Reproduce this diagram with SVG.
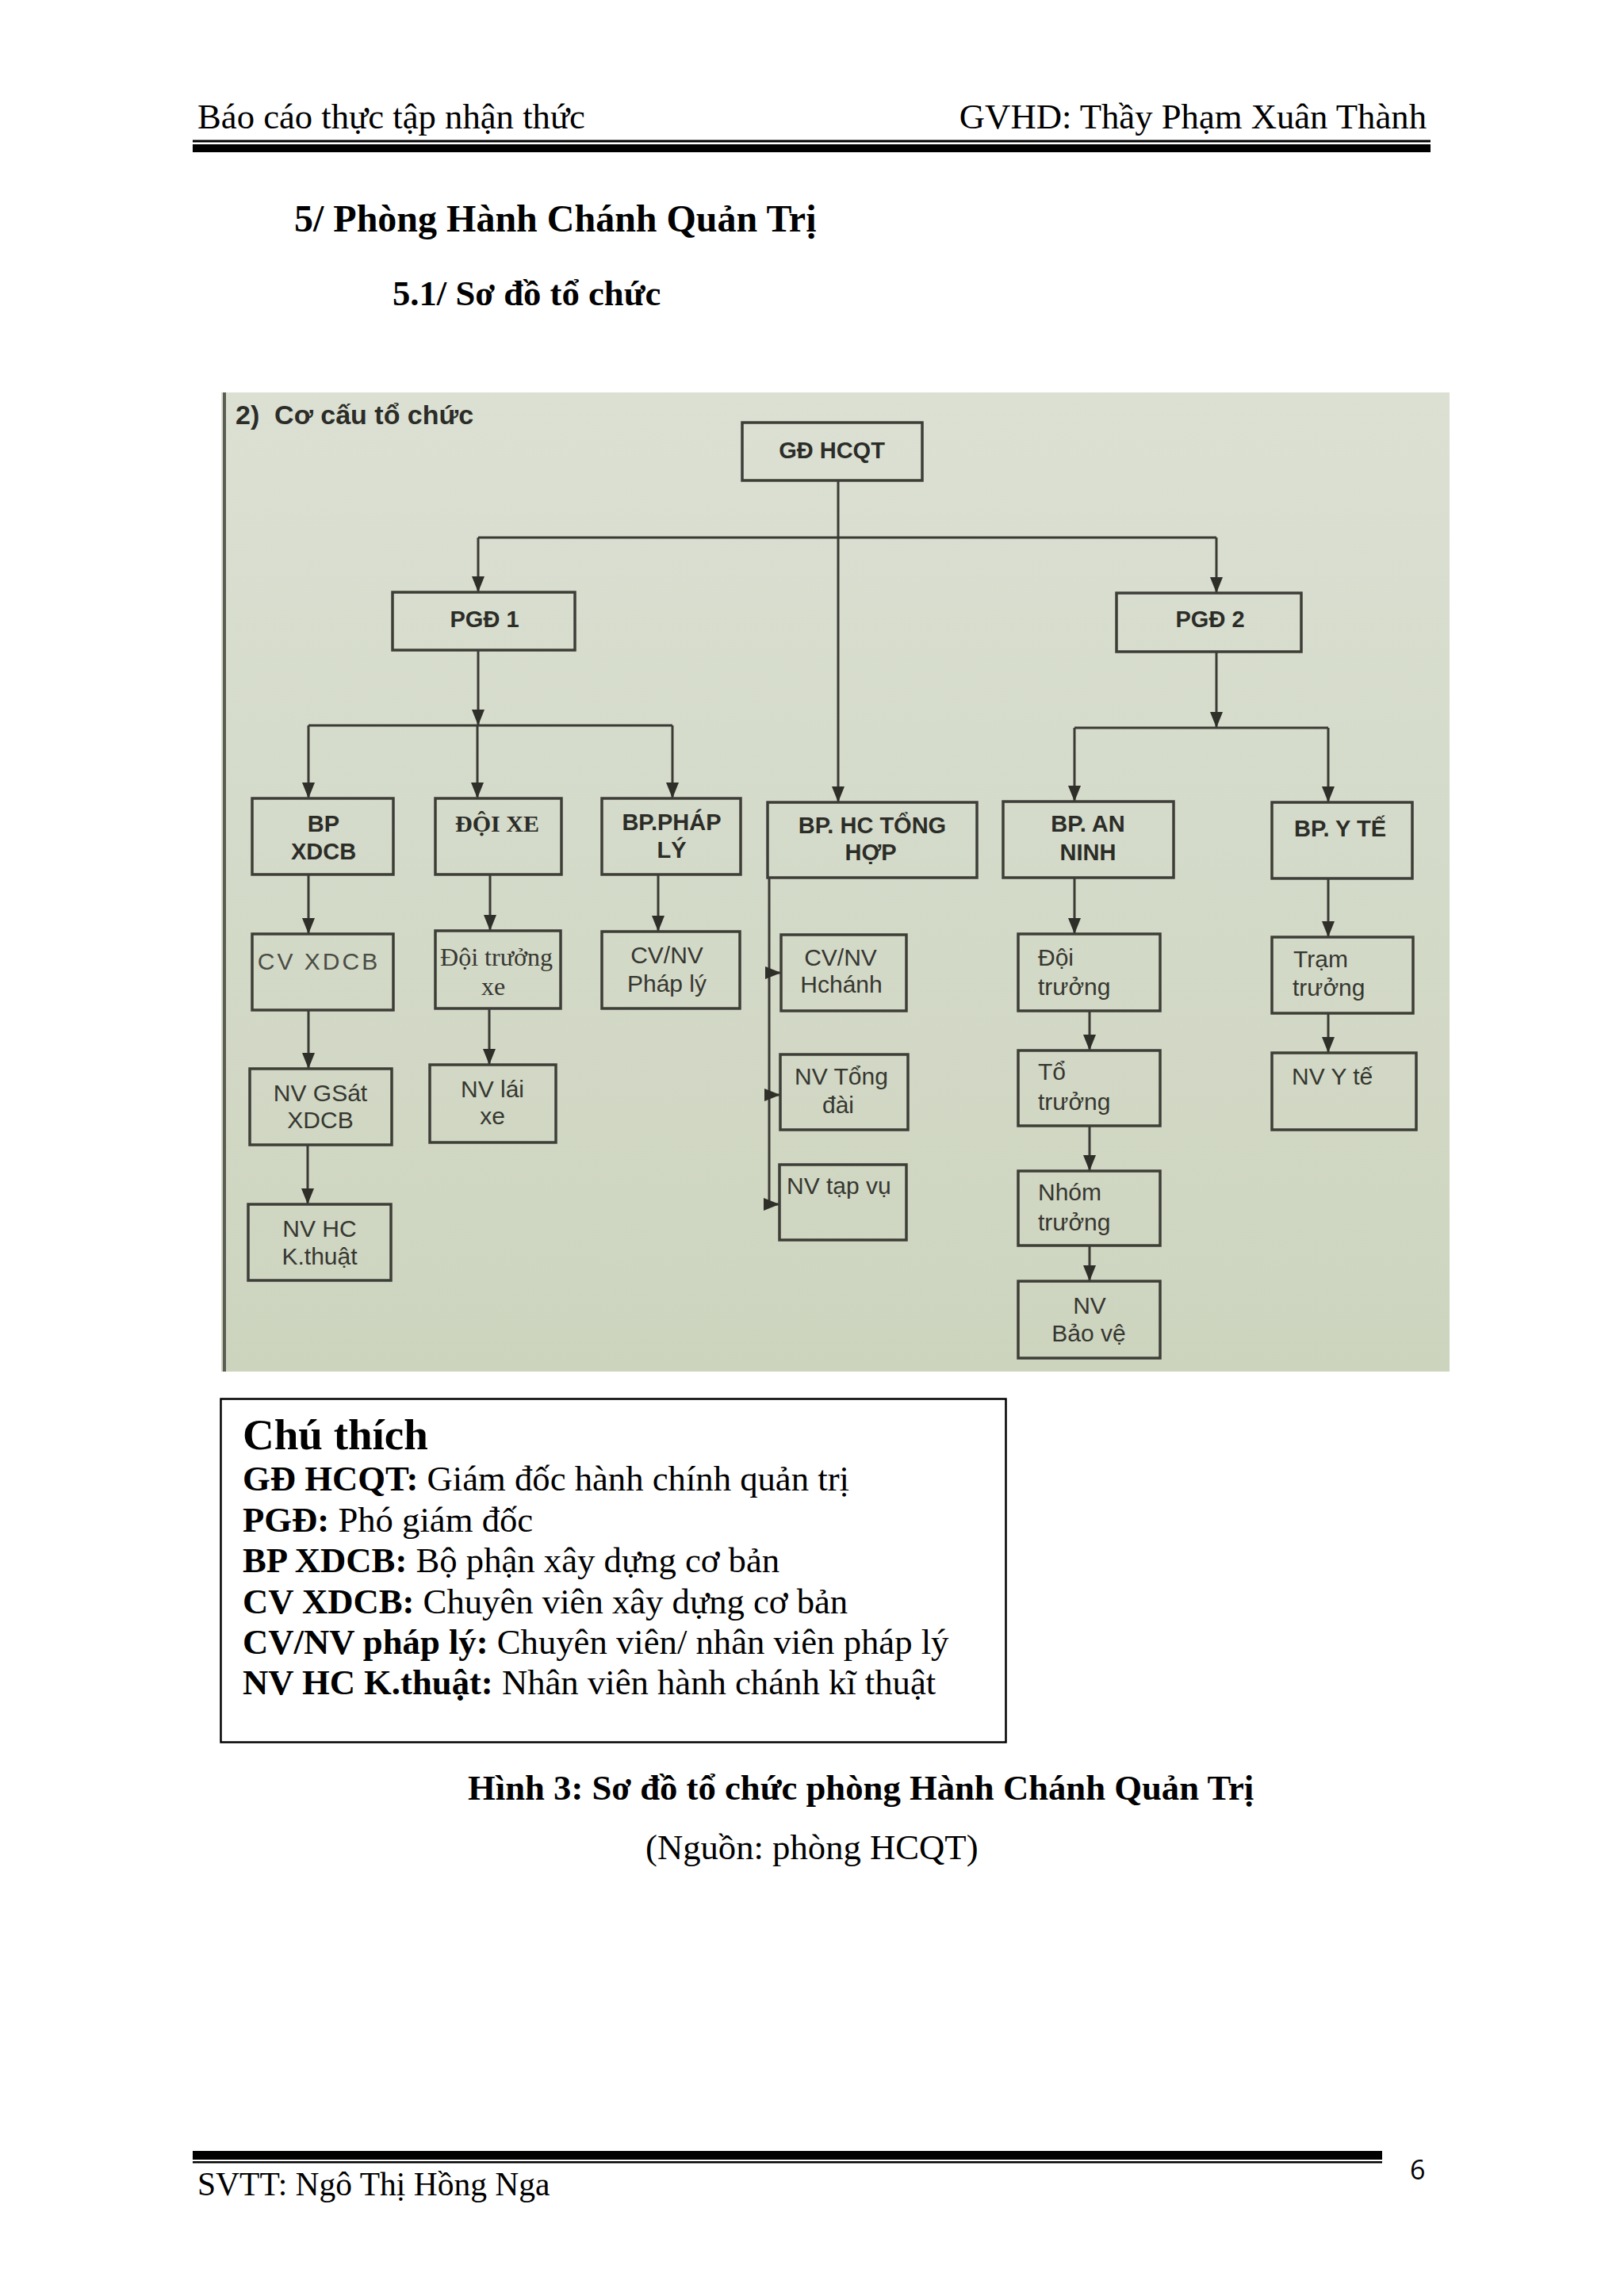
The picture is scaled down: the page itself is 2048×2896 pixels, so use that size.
<svg xmlns="http://www.w3.org/2000/svg" width="2048" height="2896" viewBox="0 0 2048 2896">
<defs>
<style>
.pg{font-family:"Liberation Serif","Times New Roman",serif;font-size:44.7px;fill:#000}
.b{font-weight:bold}
.box{fill:none;stroke:#3d3e37;stroke-width:3.5}
.hb{font-family:"Liberation Sans",Arial,sans-serif;font-weight:bold;font-size:29px;fill:#2c2d28;text-anchor:middle}
.t{font-family:"Liberation Sans",Arial,sans-serif;font-size:30px;fill:#363731;text-anchor:middle}
.tl{font-family:"Liberation Sans",Arial,sans-serif;font-size:30px;fill:#363731}
.sr{font-family:"Liberation Serif","Times New Roman",serif;font-size:32px;fill:#363731;text-anchor:middle}
.ln{fill:none;stroke:#3a3b34;stroke-width:3}
.ar{marker-end:url(#ah)}
</style>
<marker id="ah" markerUnits="userSpaceOnUse" markerWidth="20" markerHeight="16" refX="20" refY="8" orient="auto">
<path d="M0,0 L20,8 L0,16 z" fill="#2e2f29"/>
</marker>
<linearGradient id="bg" x1="0" y1="0" x2="0" y2="1">
<stop offset="0" stop-color="#dbe0d3"/>
<stop offset="1" stop-color="#cdd4be"/>
</linearGradient>
</defs>
<rect width="2048" height="2896" fill="#ffffff"/>

<!-- page header -->
<g id="header">
<text class="pg" x="249" y="162">Báo cáo thực tập nhận thức</text>
<text class="pg" x="1799" y="162" text-anchor="end">GVHD: Thầy Phạm Xuân Thành</text>
<rect x="243" y="176.5" width="1561" height="3" fill="#000"/>
<rect x="243" y="182" width="1561" height="10" fill="#000"/>
</g>
<text class="pg b" x="371" y="292" style="font-size:48px">5/ Phòng Hành Chánh Quản Trị</text>
<text class="pg b" x="495" y="385">5.1/ Sơ đồ tổ chức</text>

<!-- photographed chart -->
<rect x="279" y="495" width="1549" height="1235" fill="url(#bg)"/>
<rect x="281" y="495" width="4" height="1235" fill="#5b5d52"/>
<text x="297" y="535" style="font-family:'Liberation Sans',Arial,sans-serif;font-weight:bold;font-size:34px;fill:#2c2d28" xml:space="preserve">2)  Cơ cấu tổ chức</text>

<g id="connectors">
<path class="ln ar" d="M1057,606 V1012"/>
<path class="ln" d="M603,678 H1534"/>
<path class="ln ar" d="M603,678 V747"/>
<path class="ln ar" d="M1534,678 V748"/>
<path class="ln ar" d="M603,820 V915"/>
<path class="ln" d="M389,915 H848"/>
<path class="ln ar" d="M389,915 V1007"/>
<path class="ln ar" d="M602,915 V1007"/>
<path class="ln ar" d="M848,915 V1007"/>
<path class="ln ar" d="M1534,822 V918"/>
<path class="ln" d="M1355,918 H1675"/>
<path class="ln ar" d="M1355,918 V1011"/>
<path class="ln ar" d="M1675,918 V1012"/>
<path class="ln ar" d="M389,1103 V1178"/>
<path class="ln ar" d="M389,1274 V1348"/>
<path class="ln ar" d="M388,1444 V1519"/>
<path class="ln ar" d="M618,1103 V1174"/>
<path class="ln ar" d="M617,1272 V1343"/>
<path class="ln ar" d="M830,1103 V1175"/>
<path class="ln" d="M970,1107 V1521"/>
<path class="ln ar" d="M970,1227 H985"/>
<path class="ln ar" d="M970,1381 H984"/>
<path class="ln ar" d="M970,1519 H983"/>
<path class="ln ar" d="M1355,1107 V1178"/>
<path class="ln ar" d="M1374,1275 V1325"/>
<path class="ln ar" d="M1374,1420 V1477"/>
<path class="ln ar" d="M1374,1571 V1616"/>
<path class="ln ar" d="M1675,1108 V1182"/>
<path class="ln ar" d="M1675,1278 V1328"/>
</g>

<g id="gd-hcqt"><rect class="box" x="936" y="533" width="227" height="73"/><text class="hb" x="1049" y="578">GĐ HCQT</text></g>
<g id="pgd1"><rect class="box" x="495" y="747" width="230" height="73"/><text class="hb" x="611" y="791">PGĐ 1</text></g>
<g id="pgd2"><rect class="box" x="1408" y="748" width="233" height="74"/><text class="hb" x="1526" y="791">PGĐ 2</text></g>

<g id="bp-xdcb"><rect class="box" x="318" y="1007" width="178" height="96"/><text class="hb" x="408" y="1049">BP</text><text class="hb" x="408" y="1084">XDCB</text></g>
<g id="doi-xe"><rect class="box" x="549" y="1007" width="159" height="96"/><text class="sr" x="627" y="1049" style="font-weight:bold;font-size:30px;fill:#2c2d28">ĐỘI XE</text></g>
<g id="bp-phaply"><rect class="box" x="759" y="1007" width="175" height="96"/><text class="hb" x="847" y="1047">BP.PHÁP</text><text class="hb" x="847" y="1082">LÝ</text></g>
<g id="bp-hc"><rect class="box" x="968" y="1012" width="264" height="95"/><text class="hb" x="1100" y="1051">BP. HC TỔNG</text><text class="hb" x="1098" y="1085">HỢP</text></g>
<g id="bp-anninh"><rect class="box" x="1265" y="1011" width="215" height="96"/><text class="hb" x="1372" y="1049">BP. AN</text><text class="hb" x="1372" y="1085">NINH</text></g>
<g id="bp-yte"><rect class="box" x="1604" y="1012" width="177" height="96"/><text class="hb" x="1690" y="1055">BP. Y TẾ</text></g>

<g id="cv-xdcb"><rect class="box" x="318" y="1178" width="178" height="96"/><text class="t" x="402" y="1223" style="letter-spacing:3px;fill:#4a4c45">CV XDCB</text></g>
<g id="doi-truong-xe"><rect class="box" x="549" y="1174" width="158" height="98"/><text class="sr" x="626" y="1218">Đội trưởng</text><text class="sr" x="622" y="1255">xe</text></g>
<g id="cv-phaply"><rect class="box" x="759" y="1175" width="174" height="97"/><text class="t" x="841" y="1215">CV/NV</text><text class="t" x="841" y="1251">Pháp lý</text></g>
<g id="cv-hchanh"><rect class="box" x="985" y="1179" width="158" height="96"/><text class="t" x="1060" y="1218">CV/NV</text><text class="t" x="1061" y="1252">Hchánh</text></g>
<g id="nv-tongdai"><rect class="box" x="984" y="1330" width="161" height="95"/><text class="t" x="1061" y="1368">NV Tổng</text><text class="t" x="1057" y="1404">đài</text></g>
<g id="nv-tapvu"><rect class="box" x="983" y="1469" width="160" height="95"/><text class="tl" x="992" y="1506">NV tạp vụ</text></g>

<g id="doi-truong"><rect class="box" x="1284" y="1178" width="179" height="97"/><text class="tl" x="1309" y="1218">Đội</text><text class="tl" x="1309" y="1255">trưởng</text></g>
<g id="to-truong"><rect class="box" x="1284" y="1325" width="179" height="95"/><text class="tl" x="1309" y="1362">Tổ</text><text class="tl" x="1309" y="1400">trưởng</text></g>
<g id="nhom-truong"><rect class="box" x="1284" y="1477" width="179" height="94"/><text class="tl" x="1309" y="1514">Nhóm</text><text class="tl" x="1309" y="1552">trưởng</text></g>
<g id="nv-baove"><rect class="box" x="1284" y="1616" width="179" height="97"/><text class="t" x="1374" y="1657">NV</text><text class="t" x="1373" y="1692">Bảo vệ</text></g>

<g id="tram-truong"><rect class="box" x="1604" y="1182" width="178" height="96"/><text class="tl" x="1631" y="1220">Trạm</text><text class="tl" x="1630" y="1256">trưởng</text></g>
<g id="nv-yte"><rect class="box" x="1604" y="1328" width="182" height="97"/><text class="tl" x="1629" y="1368">NV Y tế</text></g>

<g id="nv-gsat"><rect class="box" x="315" y="1348" width="179" height="96"/><text class="t" x="404" y="1389">NV GSát</text><text class="t" x="404" y="1423">XDCB</text></g>
<g id="nv-laixe"><rect class="box" x="542" y="1343" width="159" height="98"/><text class="t" x="621" y="1384">NV lái</text><text class="t" x="621" y="1418">xe</text></g>
<g id="nv-hc-kthuat"><rect class="box" x="313" y="1519" width="180" height="96"/><text class="t" x="403" y="1560">NV HC</text><text class="t" x="403" y="1595">K.thuật</text></g>

<!-- legend -->
<g id="legend">
<rect x="278.5" y="1764.5" width="990" height="433" fill="none" stroke="#000" stroke-width="2.5"/>
<text class="pg b" x="306" y="1828" style="font-size:55px">Chú thích</text>
<text class="pg" x="306" y="1880"><tspan class="b">GĐ HCQT:</tspan> Giám đốc hành chính quản trị</text>
<text class="pg" x="306" y="1932"><tspan class="b">PGĐ:</tspan> Phó giám đốc</text>
<text class="pg" x="306" y="1983"><tspan class="b">BP XDCB:</tspan> Bộ phận xây dựng cơ bản</text>
<text class="pg" x="306" y="2035"><tspan class="b">CV XDCB:</tspan> Chuyên viên xây dựng cơ bản</text>
<text class="pg" x="306" y="2086"><tspan class="b">CV/NV pháp lý:</tspan> Chuyên viên/ nhân viên pháp lý</text>
<text class="pg" x="306" y="2137"><tspan class="b">NV HC K.thuật:</tspan> Nhân viên hành chánh kĩ thuật</text>
</g>
<text class="pg b" x="590" y="2270">Hình 3: Sơ đồ tổ chức phòng Hành Chánh Quản Trị</text>
<text class="pg" x="814" y="2345">(Nguồn: phòng HCQT)</text>

<!-- footer -->
<g id="footer">
<rect x="243" y="2713" width="1500" height="11" fill="#000"/>
<rect x="243" y="2726" width="1500" height="2.5" fill="#000"/>
<text class="pg" x="249" y="2769" style="font-size:41.5px">SVTT: Ngô Thị Hồng Nga</text>
<text x="1778" y="2749" style="font-family:'Open Sans','Liberation Sans',sans-serif;font-size:34px;fill:#000">6</text>
</g>
</svg>
